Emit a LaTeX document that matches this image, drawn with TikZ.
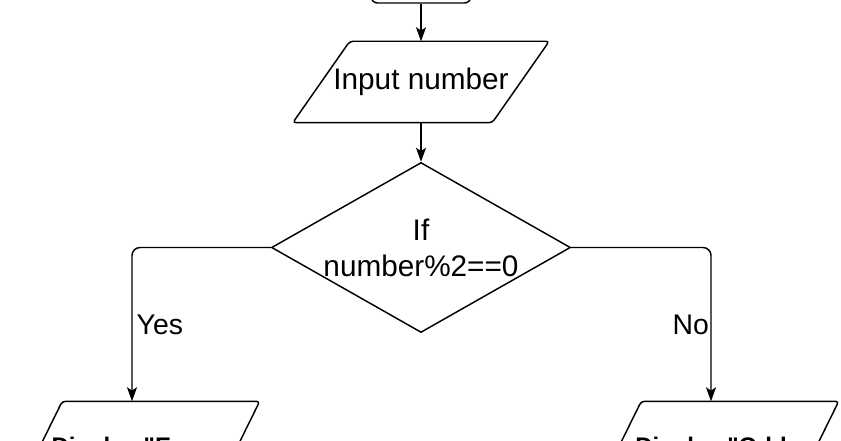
\documentclass[tikz,border=0pt]{standalone}
\usepackage{fontspec}
\setmainfont{Liberation Sans}
\newfontfamily\dispfont{Liberation Sans}
\usetikzlibrary{shapes.geometric,arrows.meta,positioning}
\def\rowy{460}

\begin{document}
\begin{tikzpicture}[x=0.75pt,y=-0.75pt,line width=1.1pt,->,>={Stealth[length=10.5pt,width=7.5pt,inset=2.5pt]}]
            \tikzstyle{every node}=[font=\fontsize{22.3}{27}\selectfont]
            \tikzstyle{terminal}=[draw,rectangle,rounded corners=5pt,minimum width=75pt,minimum height=30pt]
            \tikzstyle{io}=[rectangle,inner sep=0pt,minimum width=191.25pt,minimum height=60pt]
            \tikzstyle{output}=[io,minimum width=190.5pt,minimum height=87pt,text depth=0pt,align=center,font=\dispfont\bfseries\fontsize{18}{22}\selectfont]
            \tikzstyle{ioline}=[draw,-,rounded corners=2.5pt]
            \tikzstyle{decision}=[draw,diamond,aspect=1.76,inner sep=0pt,align=center,minimum width=224.25pt,minimum height=127.5pt]
            \tikzstyle{lbl}=[font=\fontsize{21.3}{26}\selectfont,inner sep=1pt]

            \path[use as bounding box,fill=white] (0,0) rectangle (841,441);

            % Draw the flow chart nodes
            \node[terminal] (start) at (421,-17) {};
            \node[io] (input) at (421,82) {Input number};
            \node[decision] (cond) at (421,247.5) {If\\number\%2==0};

            % Draw the two display nodes
            \foreach \name/\x/\txt in {even/132/Even,odd/711/Odd}
                \node[output] (\name) at (\x,\rowy) {Display "\txt\\number"};

            % Slanted outlines of the input / output boxes
            \foreach \name/\skew in {input/42.75pt,even/43.5pt,odd/43.5pt}
                \path[ioline] (\name.north) -- (\name.north east) -- ([xshift=-\skew]\name.south east)
                    -- (\name.south west) -- ([xshift=\skew]\name.north west) -- cycle;

            % Connect the nodes
            \draw (start) -- (input);
            \draw (input) -- (cond);
            \draw[rounded corners=6pt] (cond) -| node[lbl,pos=0.75,right=2pt] {Yes} (even);
            \draw[rounded corners=6pt] (cond) -| node[lbl,pos=0.75,left=0pt] {No} (odd);
        \end{tikzpicture}
\end{document}
